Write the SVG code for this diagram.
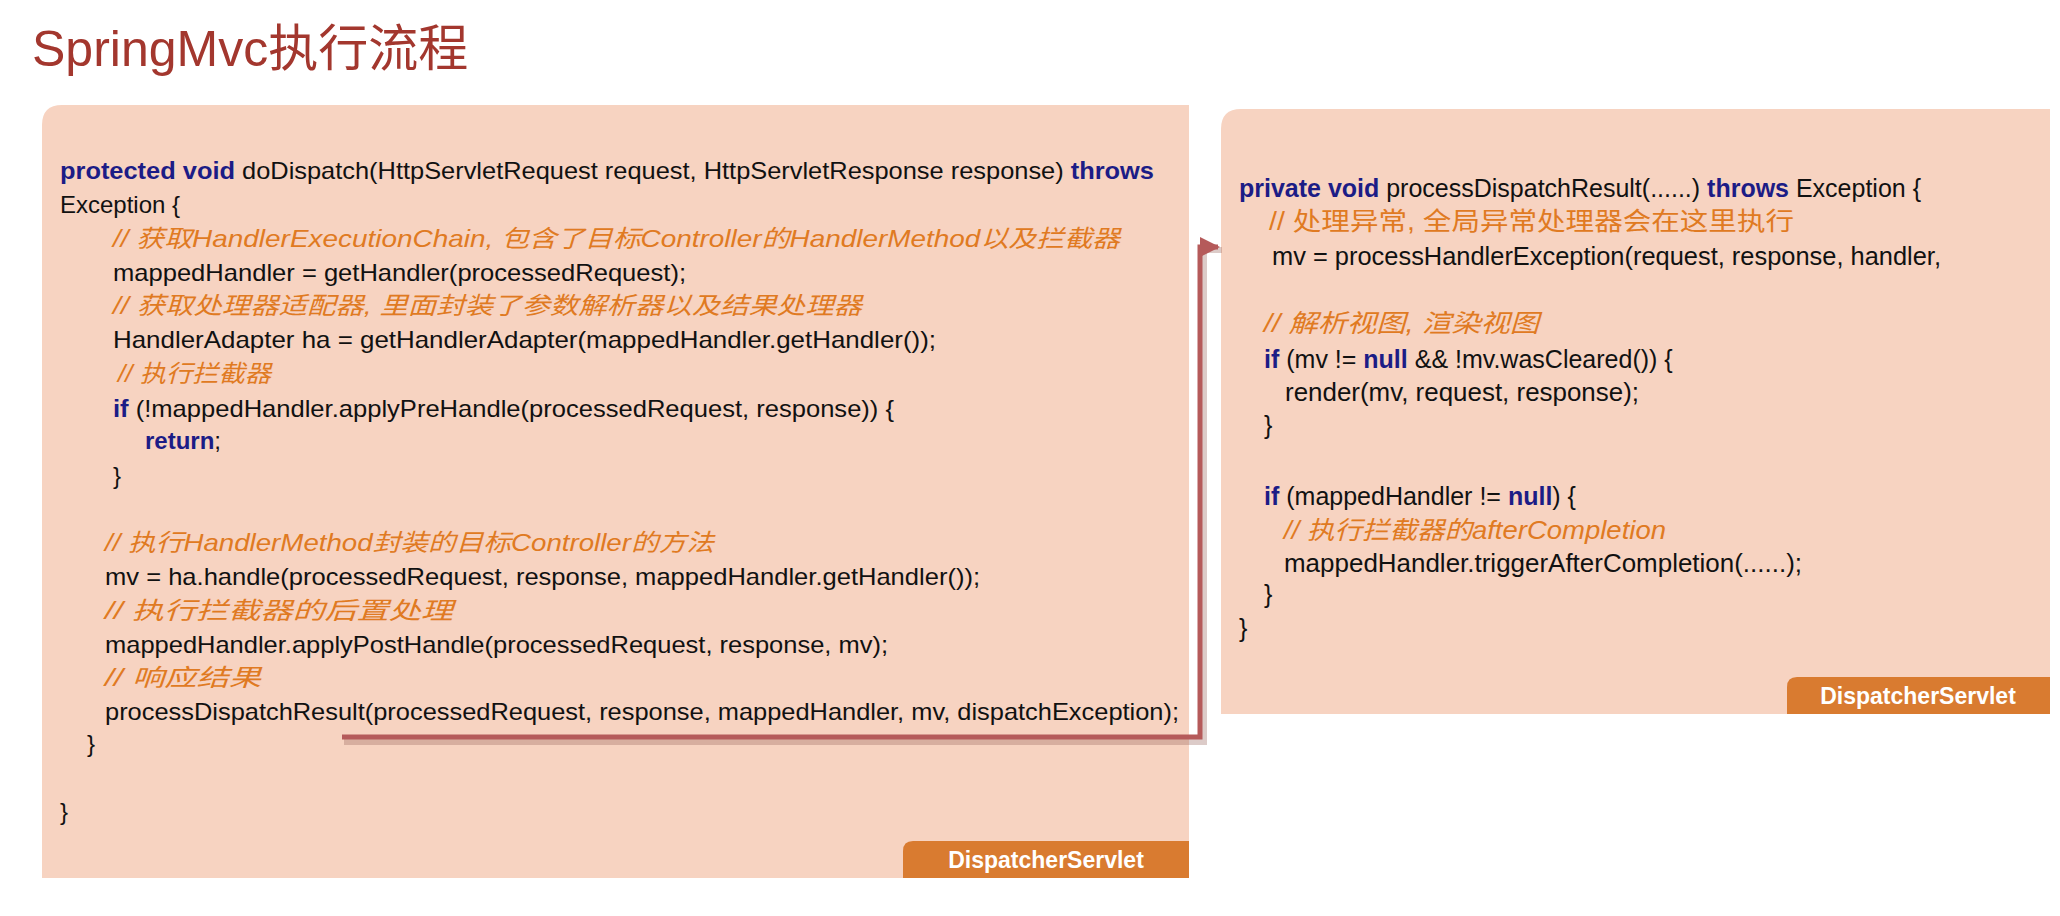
<svg xmlns="http://www.w3.org/2000/svg" width="2060" height="916" viewBox="0 0 2060 916">
<defs>
<style>
text{font-family:"Liberation Sans","Noto Sans CJK SC",sans-serif;fill:#111;}
.c{font-size:24px;}
.r{font-size:25px;}
.k{fill:#1c1c86;font-weight:bold;}
.cm{fill:#e07a22;font-style:italic;}
.box{fill:#f7d3c1;}
.tab{fill:#d97b30;}
.tt{fill:#fff;font-weight:bold;font-size:23px;}
</style>
<marker id="ah" viewBox="0 0 10 10" refX="9" refY="5" markerWidth="4" markerHeight="4" orient="auto"><path d="M0,0 L10,5 L0,10 z" fill="#b55a5a"/></marker>
</defs>
<rect width="2060" height="916" fill="#fff"/>
<text x="32" y="66" style="font-size:50px;fill:#a3372e">SpringMvc执行流程</text>

<g id="left">
<path class="box" d="M62,105 H1189 V878 H42 V125 Q42,105 62,105 z"/>
<text class="c" x="60" y="179" textLength="1094" lengthAdjust="spacingAndGlyphs"><tspan class="k">protected void</tspan> doDispatch(HttpServletRequest request, HttpServletResponse response) <tspan class="k">throws</tspan></text>
<text class="c" x="60" y="213">Exception {</text>
<text class="c cm" x="113" y="247" textLength="1007" lengthAdjust="spacingAndGlyphs">// 获取HandlerExecutionChain, 包含了目标Controller的HandlerMethod以及拦截器</text>
<text class="c" x="113" y="281" textLength="573" lengthAdjust="spacingAndGlyphs">mappedHandler = getHandler(processedRequest);</text>
<text class="c cm" x="113" y="314" textLength="749" lengthAdjust="spacingAndGlyphs">// 获取处理器适配器, 里面封装了参数解析器以及结果处理器</text>
<text class="c" x="113" y="348" textLength="823" lengthAdjust="spacingAndGlyphs">HandlerAdapter ha = getHandlerAdapter(mappedHandler.getHandler());</text>
<text class="c cm" x="118" y="382" textLength="153" lengthAdjust="spacingAndGlyphs">// 执行拦截器</text>
<text class="c" x="113" y="417" textLength="781" lengthAdjust="spacingAndGlyphs"><tspan class="k">if</tspan> (!mappedHandler.applyPreHandle(processedRequest, response)) {</text>
<text class="c" x="145" y="449"><tspan class="k">return</tspan>;</text>
<text class="c" x="113" y="484">}</text>
<text class="c cm" x="105" y="551" textLength="609" lengthAdjust="spacingAndGlyphs">// 执行HandlerMethod封装的目标Controller的方法</text>
<text class="c" x="105" y="585" textLength="875" lengthAdjust="spacingAndGlyphs">mv = ha.handle(processedRequest, response, mappedHandler.getHandler());</text>
<text class="c cm" x="105" y="619" textLength="348" lengthAdjust="spacingAndGlyphs">// 执行拦截器的后置处理</text>
<text class="c" x="105" y="653" textLength="783" lengthAdjust="spacingAndGlyphs">mappedHandler.applyPostHandle(processedRequest, response, mv);</text>
<text class="c cm" x="105" y="686" textLength="156" lengthAdjust="spacingAndGlyphs">// 响应结果</text>
<text class="c" x="105" y="720" textLength="1074" lengthAdjust="spacingAndGlyphs">processDispatchResult(processedRequest, response, mappedHandler, mv, dispatchException);</text>
<text class="c" x="87" y="752">}</text>
<text class="c" x="60" y="820">}</text>
<path class="tab" d="M913,841 H1189 V878 H903 V851 Q903,841 913,841 z"/>
<text class="tt" x="1046" y="868" text-anchor="middle">DispatcherServlet</text>
</g>

<g id="right">
<path class="box" d="M1241,109 H2050 V714 H1221 V129 Q1221,109 1241,109 z"/>
<text class="r" x="1239" y="197" textLength="682" lengthAdjust="spacingAndGlyphs"><tspan class="k">private void</tspan> processDispatchResult(......) <tspan class="k">throws</tspan> Exception {</text>
<text class="r cm" x="1269" y="230" textLength="525" lengthAdjust="spacingAndGlyphs" style="font-style:normal">// 处理异常, 全局异常处理器会在这里执行</text>
<text class="r" x="1272" y="265" textLength="669" lengthAdjust="spacingAndGlyphs">mv = processHandlerException(request, response, handler,</text>
<text class="r cm" x="1264" y="332" textLength="275" lengthAdjust="spacingAndGlyphs">// 解析视图, 渲染视图</text>
<text class="r" x="1264" y="368"><tspan class="k">if</tspan> (mv != <tspan class="k">null</tspan> &amp;&amp; !mv.wasCleared()) {</text>
<text class="r" x="1285" y="401" textLength="354" lengthAdjust="spacingAndGlyphs">render(mv, request, response);</text>
<text class="r" x="1264" y="434">}</text>
<text class="r" x="1264" y="505"><tspan class="k">if</tspan> (mappedHandler != <tspan class="k">null</tspan>) {</text>
<text class="r cm" x="1284" y="539" textLength="382" lengthAdjust="spacingAndGlyphs">// 执行拦截器的afterCompletion</text>
<text class="r" x="1284" y="572" textLength="518" lengthAdjust="spacingAndGlyphs">mappedHandler.triggerAfterCompletion(......);</text>
<text class="r" x="1264" y="603">}</text>
<text class="r" x="1239" y="637">}</text>
<path class="tab" d="M1797,677 H2050 V714 H1787 V687 Q1787,677 1797,677 z"/>
<text class="tt" x="1918" y="704" text-anchor="middle">DispatcherServlet</text>
</g>

<g id="connectors">
<path d="M342,739 H1202 V247 H1220" fill="none" stroke="#9a6a60" stroke-opacity="0.35" stroke-width="6" transform="translate(2,3)"/>
<path d="M342,737 H1200 V247 H1218" fill="none" stroke="#b55a5a" stroke-width="5" marker-end="url(#ah)"/>
</g>
</svg>
